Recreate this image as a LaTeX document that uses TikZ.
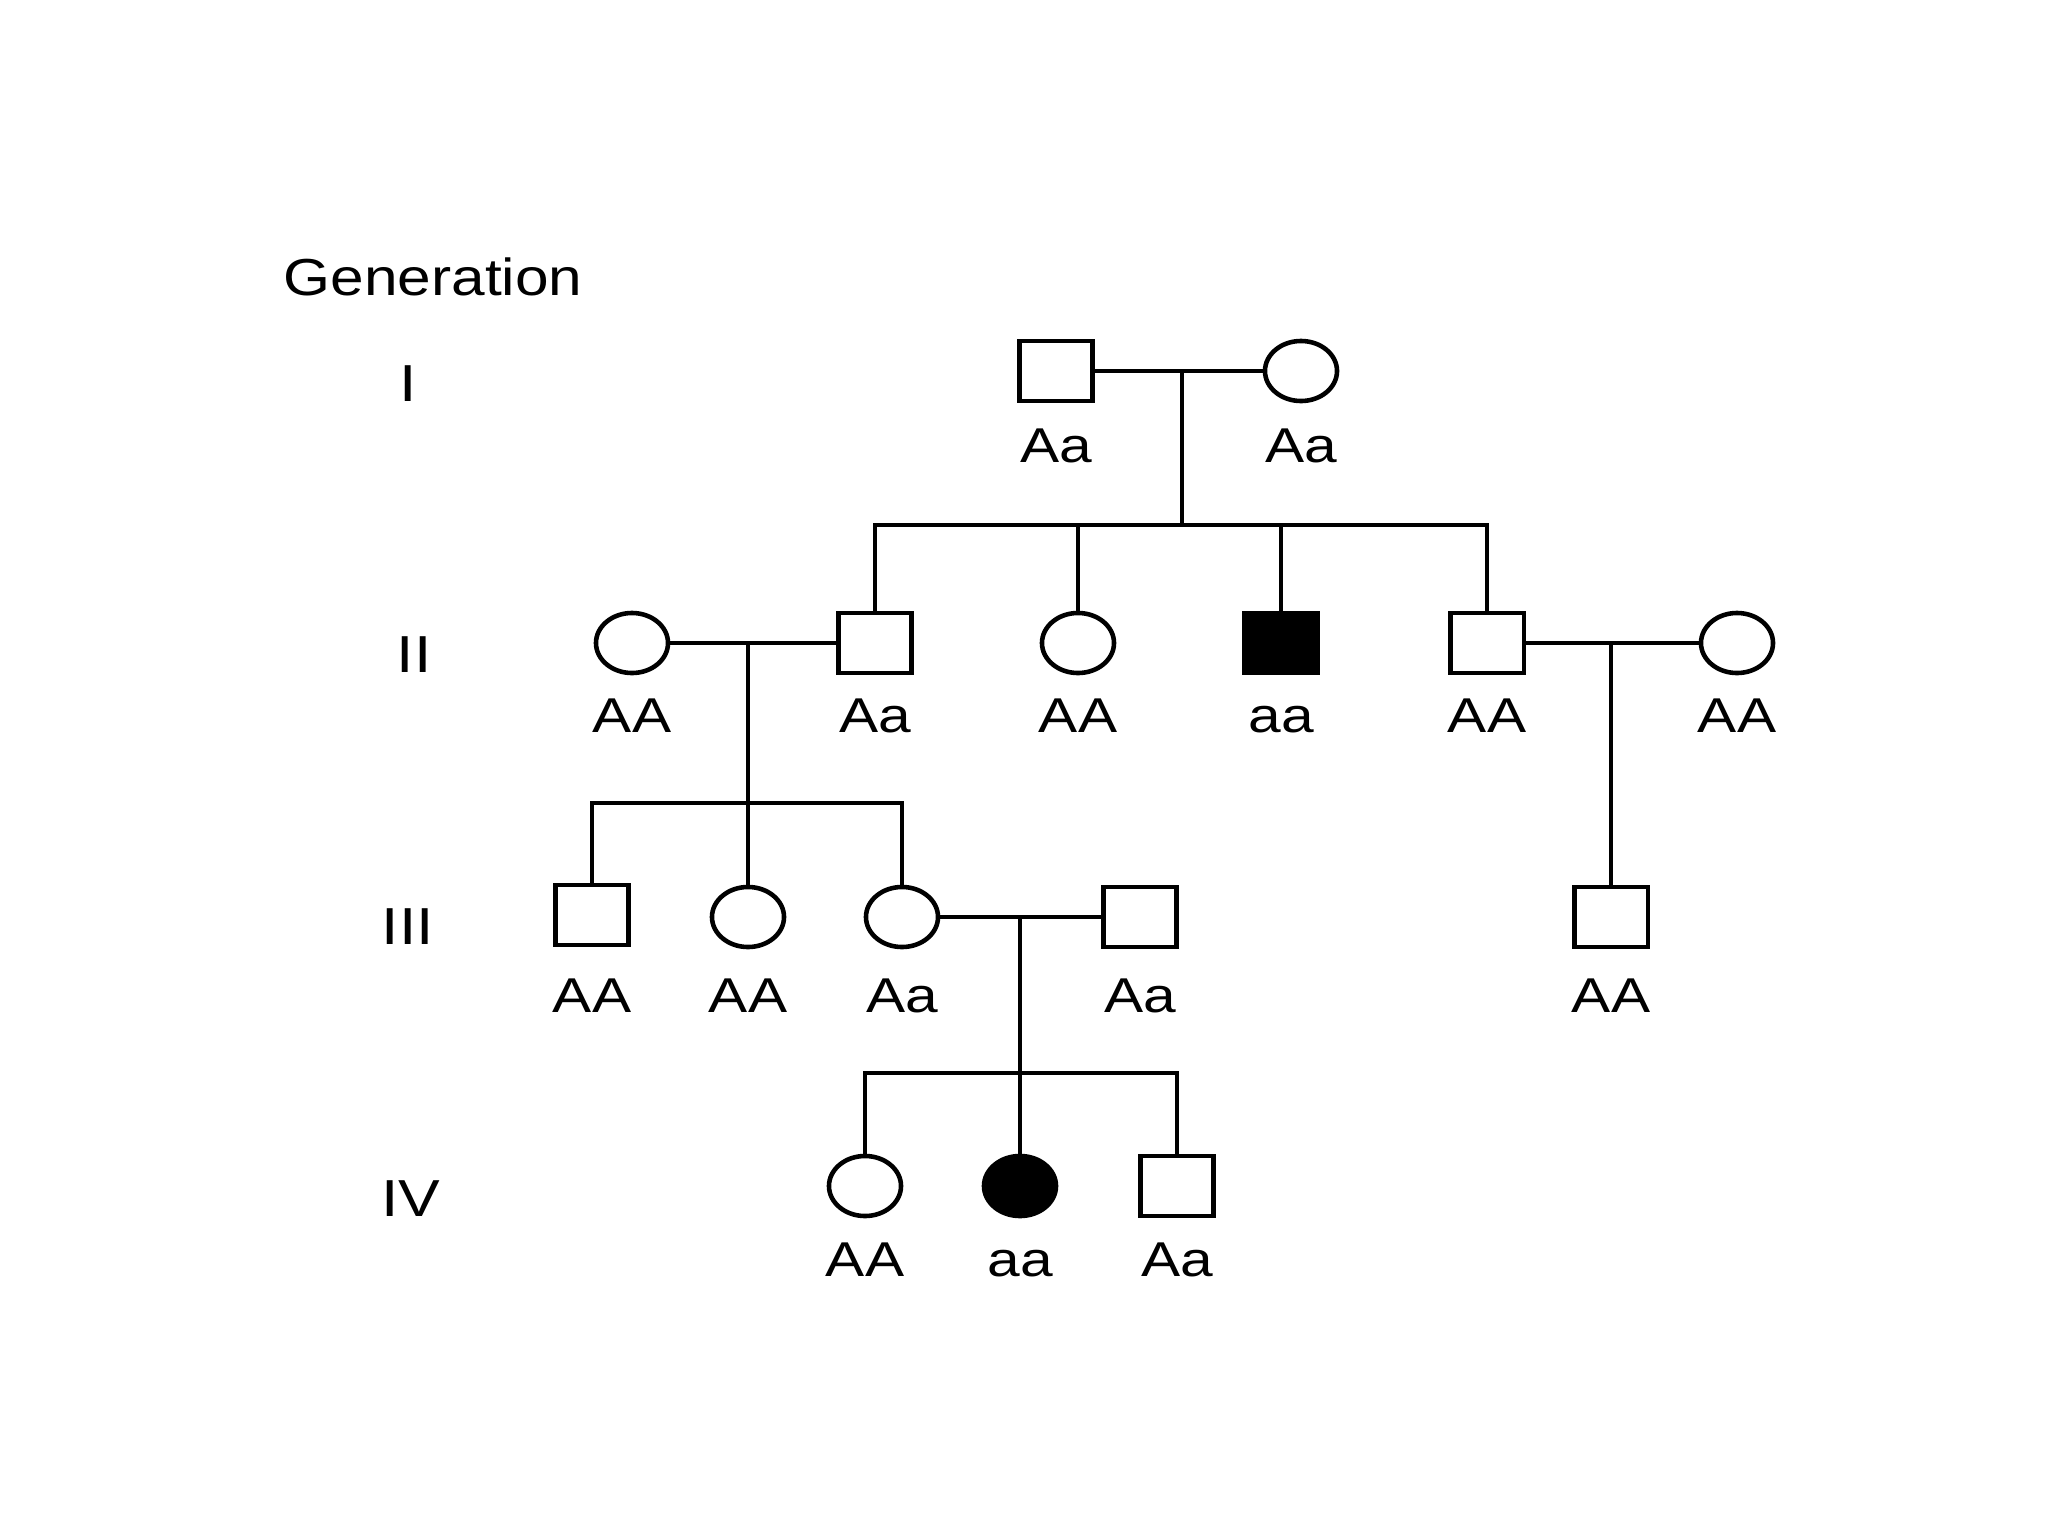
\documentclass[tikz,border=0pt]{standalone}
\usepackage{fontspec}
\setmainfont[FakeStretch=1.2]{Liberation Sans}
\newfontfamily\genfont[FakeStretch=1.16]{Liberation Sans}
\usetikzlibrary{shapes.geometric}
\begin{document}
\begin{tikzpicture}[x=0.01cm,y=-0.01cm,
  ln/.style={line width=1.3pt},
  male/.style={draw,ln,rectangle,minimum width=0.735cm,minimum height=0.6cm,inner sep=0pt},
  female/.style={draw,ln,ellipse,minimum width=0.72cm,minimum height=0.6cm,inner sep=0pt},
  aff/.style={fill=black},
  geno/.style={anchor=base,inner sep=0pt,font=\fontsize{13.9}{16}\selectfont},
  gen/.style={anchor=base,inner sep=0pt,font=\fontsize{14.8}{17}\selectfont}]
\useasboundingbox (0,0) rectangle (2048,1536);
% generation labels
\node[gen,anchor=base west,font=\genfont\fontsize{14.8}{17}\selectfont] (gtitle) at (283,295) {Generation};
\node[gen] (gI) at (408,401) {I};
\node[gen] (gII) at (414,672) {II};
\node[gen] (gIII) at (408,944) {III};
\node[gen] (gIV) at (411,1216) {IV};
% Generation I
\node[male] (I1) at (1056,371) {};
\node[female] (I2) at (1301,371) {};
\node[geno] (tI1) at (1056,462) {Aa};
\node[geno] (tI2) at (1301,462) {Aa};
% Generation II
\node[female] (II1) at (632,643) {};
\node[male] (II2) at (875,643) {};
\node[female] (II3) at (1078,643) {};
\node[male,aff] (II4) at (1281,643) {};
\node[male] (II5) at (1487,643) {};
\node[female] (II6) at (1737,643) {};
\node[geno] (tII1) at (632,732) {AA};
\node[geno] (tII2) at (875,732) {Aa};
\node[geno] (tII3) at (1078,732) {AA};
\node[geno] (tII4) at (1281,732) {aa};
\node[geno] (tII5) at (1487,732) {AA};
\node[geno] (tII6) at (1737,732) {AA};
% Generation III
\node[male] (III1) at (592,915) {};
\node[female] (III2) at (748,917) {};
\node[female] (III3) at (902,917) {};
\node[male] (III4) at (1140,917) {};
\node[male] (III5) at (1611,917) {};
\node[geno] (tIII1) at (592,1012) {AA};
\node[geno] (tIII2) at (748,1012) {AA};
\node[geno] (tIII3) at (902,1012) {Aa};
\node[geno] (tIII4) at (1140,1012) {Aa};
\node[geno] (tIII5) at (1611,1012) {AA};
% Generation IV
\node[female] (IV1) at (865,1186) {};
\node[female,aff] (IV2) at (1020,1186) {};
\node[male] (IV3) at (1177,1186) {};
\node[geno] (tIV1) at (865,1276) {AA};
\node[geno] (tIV2) at (1020,1276) {aa};
\node[geno] (tIV3) at (1177,1276) {Aa};
% junction points
\coordinate (mI) at (1182,371);
\coordinate (sI) at (1182,525);
\coordinate (mIIa) at (748,643);
\coordinate (sIIa) at (748,803);
\coordinate (mIIb) at (1611,643);
\coordinate (mIII) at (1020,917);
\coordinate (sIII) at (1020,1073);
% connectors
\draw[ln] (I1.east) -- (I2.west);
\draw[ln] (mI) -- (sI);
\draw[ln] (II2.north) -- (II2.north |- sI) -- (II5.north |- sI) -- (II5.north);
\draw[ln] (II3.north) -- (II3.north |- sI);
\draw[ln] (II4.north) -- (II4.north |- sI);
\draw[ln] (II1.east) -- (II2.west);
\draw[ln] (mIIa) -- (sIIa);
\draw[ln] (III1.north) -- (III1.north |- sIIa) -- (III3.north |- sIIa) -- (III3.north);
\draw[ln] (III2.north) -- (III2.north |- sIIa);
\draw[ln] (II5.east) -- (II6.west);
\draw[ln] (mIIb) -- (III5.north);
\draw[ln] (III3.east) -- (III4.west);
\draw[ln] (mIII) -- (sIII);
\draw[ln] (IV1.north) -- (IV1.north |- sIII) -- (IV3.north |- sIII) -- (IV3.north);
\draw[ln] (IV2.north) -- (IV2.north |- sIII);
\end{tikzpicture}
\end{document}
